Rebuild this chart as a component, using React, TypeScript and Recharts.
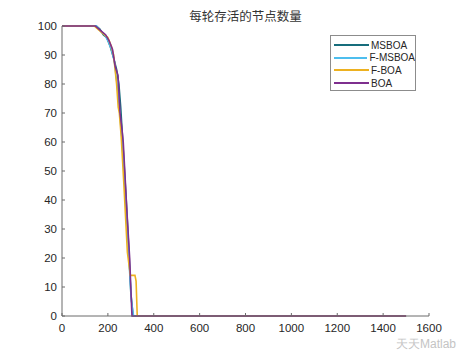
import React from "react";
import { LineChart, Line, XAxis, YAxis } from "recharts";

const X_TICKS = [0, 200, 400, 600, 800, 1000, 1200, 1400, 1600];
const Y_TICKS = [0, 10, 20, 30, 40, 50, 60, 70, 80, 90, 100];

// breakpoints (round -> alive nodes)
const MSBOA_ROUNDS = [0, 150, 165, 180, 195, 210, 225, 238, 248, 256, 265, 280, 292, 300, 310, 1500];
const MSBOA_ALIVE = [100, 100, 99, 97, 96, 93, 89, 85, 80, 72, 60, 40, 22, 8, 0, 0];

const FMSBOA_ROUNDS = [0, 150, 170, 185, 200, 215, 228, 240, 250, 260, 272, 285, 295, 303, 312, 1500];
const FMSBOA_ALIVE = [100, 100, 98, 97, 95, 92, 88, 80, 72, 62, 48, 30, 15, 5, 0, 0];

const FBOA_ROUNDS = [0, 140, 155, 170, 185, 200, 215, 225, 238, 245, 250, 258, 270, 285, 298, 318, 323, 328, 1500];
const FBOA_ALIVE = [100, 100, 99, 98, 97, 96, 93, 90, 80, 72, 70, 62, 45, 22, 14, 14, 12, 0, 0];

const BOA_ROUNDS = [0, 145, 160, 175, 190, 205, 220, 232, 240, 244, 253, 262, 267, 283, 295, 305, 1500];
const BOA_ALIVE = [100, 100, 99, 98, 97, 95, 92, 86, 84, 83, 70, 64, 60, 36, 20, 0, 0];

const zip = (rounds: number[], alive: number[]) => rounds.map((r, i) => ({ round: r, alive: alive[i] }));

const SERIES = [
  { name: "MSBOA", color: "#176d7c", data: zip(MSBOA_ROUNDS, MSBOA_ALIVE) },
  { name: "F-MSBOA", color: "#4dbeee", data: zip(FMSBOA_ROUNDS, FMSBOA_ALIVE) },
  { name: "F-BOA", color: "#edb120", data: zip(FBOA_ROUNDS, FBOA_ALIVE) },
  { name: "BOA", color: "#7e2f8e", data: zip(BOA_ROUNDS, BOA_ALIVE) },
];

const AXIS = "#6b6b6b";
const LABEL = "#262626";
const FONT = "Liberation Sans, Arial, sans-serif";

function XTick({ x, y, payload }: any) {
  return (
    <g>
      <line x1={x} x2={x} y1={y} y2={y - 3} stroke={AXIS} />
      <text x={x} y={y + 12} dy="0.35em" textAnchor="middle" fontSize={11.5} fill={LABEL}>
        {payload.value}
      </text>
    </g>
  );
}

function YTick({ x, y, payload }: any) {
  return (
    <g>
      <line x1={x} x2={x + 3} y1={y} y2={y} stroke={AXIS} />
      <text x={x - 5} y={y} dy="0.35em" textAnchor="end" fontSize={11.5} fill={LABEL}>
        {payload.value}
      </text>
    </g>
  );
}

function LegendBox() {
  return (
    <div
      style={{
        position: "absolute",
        left: 330,
        top: 35,
        width: 86,
        height: 56,
        boxSizing: "border-box",
        border: "1px solid #8c8c8c",
        background: "#fff",
        paddingTop: 3,
        fontFamily: FONT,
        fontSize: 10,
        color: LABEL,
        whiteSpace: "nowrap",
      }}
    >
      {SERIES.map((s) => (
        <div key={s.name} style={{ display: "flex", alignItems: "center", height: 12.6 }}>
          <div style={{ width: 35, height: 2, marginLeft: 3, background: s.color }} />
          <span style={{ marginLeft: 2 }}>{s.name}</span>
        </div>
      ))}
    </div>
  );
}

export default function App() {
  return (
    <div style={{ position: "absolute", left: 0, top: 0, width: 474, height: 355, background: "#fff" }}>
      <LineChart
        width={474}
        height={355}
        margin={{ top: 26, right: 45, bottom: 9, left: 0 }}
        style={{ fontFamily: FONT }}
      >
        <text
          x={245.5}
          y={17}
          dy="0.35em"
          textAnchor="middle"
          fontSize={12.5}
          fill="#333"
          style={{ fontFamily: "Noto Sans CJK SC" }}
        >
          每轮存活的节点数量
        </text>
        <XAxis
          type="number"
          dataKey="round"
          domain={[0, 1600]}
          ticks={X_TICKS}
          interval={0}
          height={30}
          tickSize={0}
          tickMargin={0}
          tickLine={false}
          axisLine={{ stroke: AXIS }}
          tick={<XTick />}
          allowDuplicatedCategory={false}
        />
        <YAxis
          type="number"
          domain={[0, 100]}
          ticks={Y_TICKS}
          interval={0}
          width={62}
          tickSize={0}
          tickMargin={0}
          tickLine={false}
          axisLine={{ stroke: AXIS }}
          tick={<YTick />}
        />
        {SERIES.map((s) => (
          <Line
            key={s.name}
            data={s.data}
            dataKey="alive"
            name={s.name}
            type="linear"
            stroke={s.color}
            strokeWidth={1.6}
            dot={false}
            isAnimationActive={false}
          />
        ))}
      </LineChart>
      <LegendBox />
      <div
        style={{
          position: "absolute",
          left: 396,
          top: 337,
          fontFamily: FONT,
          fontSize: 12,
          lineHeight: "14px",
          color: "#c4c4c4",
        }}
      >
        天天Matlab
      </div>
    </div>
  );
}
